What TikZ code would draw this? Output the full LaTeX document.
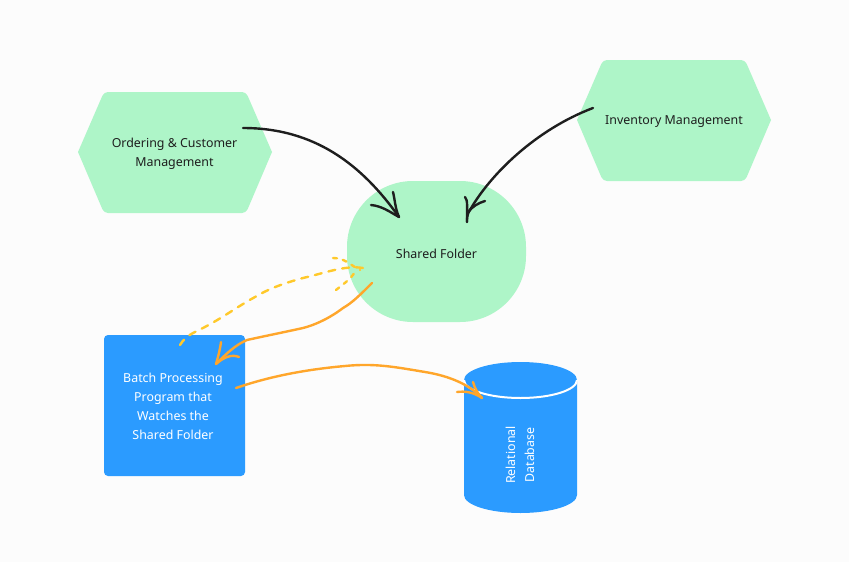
\documentclass[tikz,border=0pt]{standalone}
\usepackage{fontspec}
\setmainfont{Noto Sans}
\usetikzlibrary{calc}
\definecolor{bgc}{HTML}{FCFCFC}
\definecolor{greenc}{HTML}{AEF5C8}
\definecolor{bluec}{HTML}{2B9BFF}
\definecolor{inkc}{HTML}{1E1E1E}
\definecolor{orangec}{HTML}{FFA62B}
\definecolor{yellowc}{HTML}{FFC92B}
\tikzset{
  x=1pt,y=-1pt,
  labeltext/.style={font=\fontsize{12.4}{19}\selectfont,text=inkc,align=center,inner sep=0pt},
  whitetext/.style={font=\fontsize{12.4}{19}\selectfont,text=white,align=center,inner sep=0pt},
  hexshape/.style={fill=greenc},
  inkline/.style={draw=inkc,line width=2.4pt,line cap=round,line join=round},
  orangeline/.style={draw=orangec,line width=2.4pt,line cap=round,line join=round},
  yellowline/.style={draw=yellowc,line width=2.4pt,line cap=round,dash pattern=on 7pt off 7pt},
  blueshape/.style={fill=bluec}
}
\begin{document}
\begin{tikzpicture}
\useasboundingbox (0,0) rectangle (849,562);
\fill[bgc] (0,0) rectangle (849,562);
% shapes
\fill[hexshape] (78,152) [rounded corners=4pt]-- (104,92) -- (246,92) [sharp corners]-- (272,152) [rounded corners=4pt]-- (246,213) -- (104,213) [sharp corners]-- cycle;
\fill[hexshape] (577,120) [rounded corners=4pt]-- (603,60) -- (745,60) [sharp corners]-- (771,120) [rounded corners=4pt]-- (745,181) -- (603,181) [sharp corners]-- cycle;
\fill[greenc,rounded corners=66pt] (347,181) rectangle (526,322);
\fill[blueshape,rounded corners=4pt] (104,335) rectangle (245,476);
\fill[blueshape] (464,380) -- (464,495) arc[start angle=180,end angle=360,x radius=56.5,y radius=-18] -- (577,380) arc[start angle=0,end angle=-180,x radius=56.5,y radius=18] -- cycle;
\draw[white,line width=2pt] (464,380) arc[start angle=180,end angle=360,x radius=56.5,y radius=-18];
% text nodes
\node[labeltext] (order) at (174.5,153.5) {Ordering \& Customer\\Management};
\node[labeltext] (inventory) at (674,122) {Inventory Management};
\node[labeltext] (shared) at (436.5,253.5) {Shared Folder};
\node[whitetext] (batch) at (173,406.5) {Batch Processing\\Program that\\Watches the\\Shared Folder};
\node[whitetext,rotate=90] (db) at (520,455) {Relational\\Database};
% connector ends
\coordinate (orderOut) at (243,128);
\coordinate (sharedInA) at (399,217);
\coordinate (tickA1) at (371,205);
\coordinate (tickA2) at (393,192);
\coordinate (invOut) at (593,108);
\coordinate (sharedInB) at (467,222);
\coordinate (tickB1) at (465,197);
\coordinate (tickB2) at (485,201);
\coordinate (sharedOutO) at (372,283);
\coordinate (batchIn) at (216,364);
\coordinate (tickC1) at (221,342);
\coordinate (tickC2) at (239,357);
\coordinate (batchOut) at (236,388);
\coordinate (dbIn) at (482,398);
\coordinate (tickD1) at (473,382);
\coordinate (tickD2) at (457,392);
\coordinate (sharedOutY) at (363,268);
\coordinate (batchInY) at (180,345);
\coordinate (tickE1) at (333,258);
\coordinate (tickE2) at (336,290);
\coordinate (tipE) at (360,270);
% black connectors
\draw[inkline] (orderOut) .. controls (315,128) and (362,165) .. (sharedInA);
\draw[inkline] (tickA1) .. controls (382,206) and (390,212) .. (sharedInA);
\draw[inkline] (tickA2) .. controls (395,200) and (395,208) .. (sharedInA);
\draw[inkline] (invOut) .. controls (535,130) and (490,175) .. (470,210) .. controls (467,214) and (467,218) .. (sharedInB);
\draw[inkline] (tickB1) .. controls (468,200) and (467,208) .. (sharedInB);
\draw[inkline] (tickB2) .. controls (478,203) and (472,207) .. (468,212);
% orange connectors
\draw[orangeline] (sharedOutO) .. controls (360,295) and (352,303) .. (343,308) .. controls (330,318) and (315,325) .. (303,328) .. controls (285,332) and (265,336) .. (247,340) .. controls (235,345) and (225,355) .. (batchIn);
\draw[orangeline] (tickC1) .. controls (220,350) and (218,357) .. (batchIn);
\draw[orangeline] (tickC2) .. controls (232,354) and (224,357) .. (batchIn);
\draw[orangeline] (batchOut) .. controls (265,378) and (300,370) .. (345,366) .. controls (375,363) and (395,367) .. (425,372) .. controls (450,376) and (470,385) .. (dbIn);
\draw[orangeline] (tickD1) .. controls (475,389) and (478,394) .. (dbIn);
\draw[orangeline] (tickD2) .. controls (465,391) and (473,392) .. (dbIn);
% yellow dashed connector
\draw[yellowline] (sharedOutY) .. controls (345,265) and (325,273) .. (303,278) .. controls (285,283) and (270,288) .. (255,297) .. controls (235,308) and (220,320) .. (195,332) .. controls (187,336) and (183,340) .. (batchInY);
\draw[yellowline,dash pattern=on 4pt off 6pt] (tickE1) .. controls (345,258) and (350,265) .. (tipE);
\draw[yellowline,dash pattern=on 4pt off 6pt] (tickE2) .. controls (342,285) and (350,280) .. (355,272);
\end{tikzpicture}
\end{document}
